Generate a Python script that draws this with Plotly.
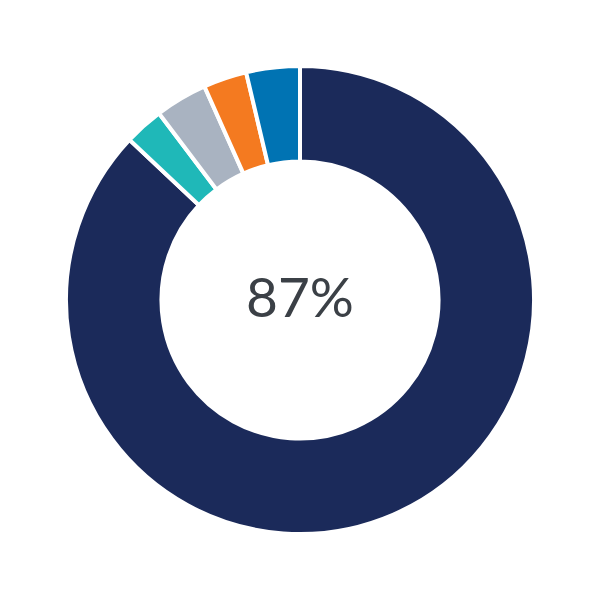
import plotly.graph_objects as go

# slices, clockwise from 12 o'clock
labels = ["Main", "Teal", "Gray", "Orange", "Blue"]
values = [87.0, 2.7, 3.6, 3.0, 3.7]
colors = ["#1b2a5a", "#1fb8b8", "#a9b3c1", "#f47a20", "#0073b3"]
center_text = "87%"

fig = go.Figure()

fig.add_trace(
    go.Pie(
        labels=labels,
        values=values,
        hole=0.592,
        sort=False,
        direction="clockwise",
        rotation=0,
        marker=dict(colors=colors, line=dict(color="white", width=4)),
        textinfo="none",
        hoverinfo="label+percent",
        showlegend=False,
    )
)

fig.add_annotation(
    text=center_text,
    x=0.5, y=0.5, xref="paper", yref="paper",
    yshift=4,
    showarrow=False,
    font=dict(family="Lato", size=55, color="#3b4046"),
)

fig.update_layout(
    width=600, height=600,
    margin=dict(l=66, r=66, t=66, b=66),
    paper_bgcolor="white",
    plot_bgcolor="white",
)

# drop the default 8px page margin so the figure sits at the window's corner
fig.write_html(
    "out.html",
    config={"displayModeBar": False},
    post_script="document.body.style.margin='0';",
)
